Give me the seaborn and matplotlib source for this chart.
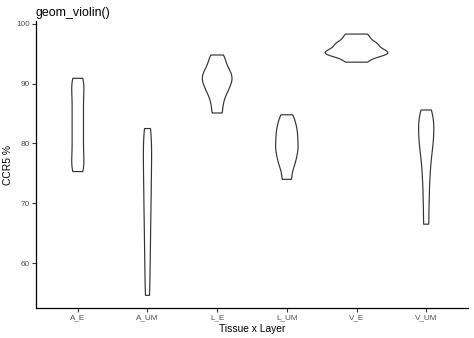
import numpy as np
import pandas as pd
import matplotlib
matplotlib.use("Agg")
import matplotlib.pyplot as plt
import seaborn as sns

# ---- data ----
categories = ["A_E", "A_UM", "L_E", "L_UM", "V_E", "V_UM"]
a_e = [75.3, 76.7, 78.9, 81.0, 83.1, 85.2, 87.3, 89.5, 90.9]
a_um = [54.6, 59.5, 63.7, 67.5, 70.9, 74.1, 77.1, 79.9, 82.5]
l_e = [85.1, 86.7, 88.0, 88.9, 89.6, 90.3, 90.8, 91.4, 92.0, 92.7, 93.7, 94.8]
l_um = [74.0, 75.9, 77.1, 78.1, 79.0, 79.8, 80.7, 81.6, 82.5, 83.5, 84.8]
v_e = [93.6, 94.3, 94.7, 95.0, 95.2, 95.5, 95.8, 96.2, 96.6, 97.0, 97.6, 98.3]
v_um = [66.5, 70.4, 73.8, 76.5, 78.7, 80.2, 81.6, 83.0, 84.3, 85.6]
y_ticks = [60, 70, 80, 90, 100]

groups = [a_e, a_um, l_e, l_um, v_e, v_um]
df = pd.DataFrame({
    "group": np.repeat(categories, [len(g) for g in groups]),
    "ccr5": np.concatenate(groups),
})

sns.set_theme(style="ticks")
plt.rcParams["font.family"] = ["Liberation Sans", "DejaVu Sans"]

W, H = 474, 338
fig = plt.figure(figsize=(W / 100, H / 100), dpi=100)
ax = fig.add_axes([36 / W, 1 - 308.4 / H, (468 - 36) / W, (308.4 - 21) / H])

sns.violinplot(data=df, x="group", y="ccr5", order=categories, ax=ax,
               fill=False, color="#333333", linecolor="#333333", linewidth=0.85,
               inner=None, cut=0, density_norm="area", width=0.9, bw_adjust=0.5)

lo, hi = df["ccr5"].min(), df["ccr5"].max()
pad = 0.05 * (hi - lo)
ax.set_ylim(lo - pad, hi + pad)
ax.set_xlim(-0.6, len(categories) - 0.4)
ax.set_yticks(y_ticks)

for s in ["top", "right"]:
    ax.spines[s].set_visible(False)
for s in ["left", "bottom"]:
    ax.spines[s].set_color("black")
    ax.spines[s].set_linewidth(0.9)

ax.tick_params(length=3, width=0.8, color="#333333", labelsize=5.9,
               labelcolor="#4D4D4D", pad=1.5)
ax.set_xlabel("Tissue x Layer", fontsize=7.4, labelpad=2, color="black")
ax.set_ylabel("CCR5 %", fontsize=7.4, labelpad=2.5, color="black")
ax.set_title("geom_violin()", loc="left", fontsize=8.9, pad=3.5, color="black")

fig.savefig("out.png", dpi=100)
